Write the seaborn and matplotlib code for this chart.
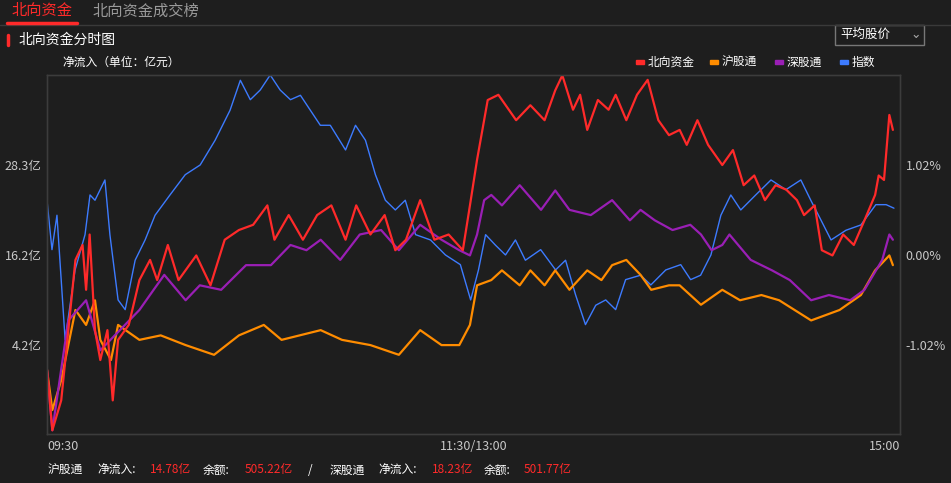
import matplotlib
matplotlib.use("Agg")
import matplotlib.pyplot as plt
import seaborn as sns
from matplotlib.patches import Rectangle
from matplotlib.lines import Line2D

# minutes since 09:30 (trading minutes, 240 total)
north_t = [0, 1.5, 4, 6, 8, 10, 11, 12, 13.5, 15, 17, 18.5, 20, 23, 26, 29, 31, 34, 37, 42, 46, 50, 54, 58,
           62, 64, 68, 72, 76, 80, 84, 87, 91, 95, 98, 101, 105, 109, 113, 117, 119, 121, 124, 127, 132, 136,
           140, 143, 145, 148, 150, 152, 155, 158, 160, 163, 166, 169, 172, 175, 178, 180, 183, 186, 190, 193,
           196, 199, 202, 205, 208, 211, 213, 216, 218, 221, 224, 227, 230, 233, 234, 235.5, 237, 238]
north_v = [0.9, -7.2, -3.2, 6.2, 15.6, 17.6, 11.6, 19.0, 6.2, 2.2, 6.2, -3.2, 4.9, 6.9, 12.9, 15.6, 12.9, 17.6,
           12.9, 16.2, 12.2, 18.3, 19.6, 20.3, 22.9, 18.3, 21.6, 18.3, 21.6, 22.9, 18.3, 22.9, 19.0, 21.6, 16.9,
           18.3, 23.6, 18.3, 19.0, 16.9, 22.9, 29.0, 37.0, 37.7, 34.3, 36.3, 34.3, 38.3, 40.3, 35.7, 37.7, 33.0,
           37.0, 35.7, 37.7, 34.3, 37.7, 39.7, 34.3, 32.3, 33.0, 31.0, 34.3, 31.0, 28.3, 30.3, 25.6, 26.9, 23.6,
           25.6, 25.0, 23.6, 21.6, 22.9, 16.9, 16.2, 19.0, 17.6, 20.9, 24.3, 26.9, 26.3, 35.0, 33.0]

sh_t = [0, 1.5, 4, 8, 11, 13.5, 15, 18, 20, 26, 32, 39, 47, 54, 61, 66, 77, 83, 91, 99, 105, 111, 116, 119,
        121, 125, 128, 133, 136, 140, 143, 147, 152, 156, 159, 163, 167, 170, 175, 178, 184, 190, 195, 201,
        206, 215, 223, 229, 233, 237, 238]
sh_v = [0.9, -4.5, -0.5, 8.9, 6.9, 10.2, 4.9, 2.2, 6.9, 4.9, 5.5, 4.2, 2.9, 5.5, 6.9, 4.9, 6.2, 4.9, 4.2, 2.9,
        6.2, 4.2, 4.2, 6.9, 12.2, 12.9, 14.2, 12.2, 14.2, 12.2, 14.2, 11.6, 14.2, 12.9, 14.9, 15.6, 13.6, 11.6,
        12.2, 12.2, 9.6, 11.6, 10.2, 10.9, 10.2, 7.5, 8.9, 10.9, 14.2, 16.2, 14.9]

sz_t = [0, 1.5, 6, 11, 15, 20.5, 26, 30, 33, 39, 43, 49, 56, 63, 68.5, 73, 77, 82.5, 88, 94, 99, 105, 111, 116,
        119, 121, 123, 125, 128, 133, 139, 143, 147, 153, 159, 164, 167, 171, 176, 181, 184, 187, 190, 192,
        198, 204, 209, 215, 220, 226, 230, 235, 237, 238]
sz_v = [0.9, -7.2, 7.5, 10.2, 3.5, 6.2, 8.9, 11.6, 13.6, 10.2, 12.2, 11.6, 14.9, 14.9, 17.6, 16.9, 18.3, 15.6,
        19.0, 19.6, 16.9, 20.3, 18.3, 16.9, 16.2, 19.0, 23.6, 24.3, 22.9, 25.6, 22.3, 24.9, 22.3, 21.6, 23.6,
        20.9, 22.3, 20.9, 19.6, 20.3, 19.0, 16.9, 17.6, 19.0, 15.6, 14.2, 12.9, 10.2, 10.9, 10.2, 11.6, 15.6,
        19.0, 18.3]

idx_t = [0, 1.4, 2.8, 5.1, 7.9, 10.7, 12.1, 13.5, 16.3, 17.7, 20, 22, 24.8, 27.6, 30.4, 34.6, 38.9, 43.1, 47.3,
         51.5, 54.4, 57.2, 60, 62.8, 65.6, 68.5, 71.3, 74.1, 76.9, 79.7, 84, 86.8, 89.6, 92.4, 95.2, 98.0, 100.8,
         103.7, 107.9, 112.1, 116.3, 119.2, 121.4, 123.4, 126.2, 129, 131.8, 134.6, 138.9, 143.1, 145.9, 148.7,
         151.5, 154.4, 157.2, 160, 162.8, 167, 169.9, 174.1, 178.3, 181.1, 183.9, 186.8, 189.6, 192.4, 195.2,
         199.4, 203.7, 207.9, 212.1, 214.9, 217.7, 220.6, 224.8, 229, 233.2, 236.1, 238.3]
idx_v = [0.62, 0.06, 0.45, -0.96, -0.17, 0.23, 0.68, 0.62, 0.85, 0.23, -0.51, -0.62, -0.06, 0.17, 0.45, 0.68,
         0.91, 1.02, 1.30, 1.64, 1.98, 1.76, 1.87, 2.04, 1.87, 1.76, 1.81, 1.64, 1.47, 1.47, 1.19, 1.47, 1.30,
         0.91, 0.62, 0.51, 0.62, 0.23, 0.17, 0.0, -0.11, -0.51, -0.17, 0.23, 0.11, 0.0, 0.17, -0.06, 0.06, -0.17,
         -0.06, -0.45, -0.79, -0.57, -0.51, -0.62, -0.28, -0.23, -0.34, -0.17, -0.11, -0.28, -0.23, 0.0, 0.45,
         0.68, 0.51, 0.68, 0.85, 0.74, 0.85, 0.62, 0.40, 0.17, 0.28, 0.34, 0.57, 0.57, 0.53]

left_ticks = [4.2, 16.2, 28.3]
right_ticks = [-1.02, 0.0, 1.02]
x_ticks = [0, 120, 240]
x_labels = ["09:30", "11:30/13:00", "15:00"]

BG = "#1e1e1e"
RED = "#ff2a2a"
ORANGE = "#ff8c00"
PURPLE = "#9a1fb5"
BLUE = "#3d7bff"
GRAY = "#c8c8c8"

sns.set_style("dark")
plt.rcParams["font.family"] = ["Noto Sans CJK SC", "DejaVu Sans"]

fig = plt.figure(figsize=(9.51, 4.83), dpi=100, facecolor=BG)
W, H = 951, 483
ax = fig.add_axes([47 / W, 49 / H, 853 / W, 359 / H], facecolor=BG)
ax2 = ax.twinx()

sns.lineplot(x=idx_t, y=idx_v, ax=ax2, color=BLUE, linewidth=1.0)
sns.lineplot(x=sh_t, y=sh_v, ax=ax, color=ORANGE, linewidth=1.6)
sns.lineplot(x=sz_t, y=sz_v, ax=ax, color=PURPLE, linewidth=1.6)
sns.lineplot(x=north_t, y=north_v, ax=ax, color=RED, linewidth=1.6)
ax.set_zorder(ax2.get_zorder() + 1)
ax.patch.set_visible(False)
ax2.patch.set_facecolor(BG)

ax.set_xlim(0, 240)
ax.set_ylim(-7.7, 40.35)
ax2.set_ylim(-2.03, 2.04)
ax.set_yticks(left_ticks)
ax.set_yticklabels([f"{v}亿" for v in left_ticks])
ax2.set_yticks(right_ticks)
ax2.set_yticklabels([f"{v:.2f}%" for v in right_ticks])
ax.set_xticks(x_ticks)
ax.set_xticklabels(x_labels)
for a in (ax, ax2):
    a.tick_params(colors=GRAY, labelsize=9, length=0, pad=4)
    a.grid(False)
    for s in a.spines.values():
        s.set_color("#3c3c3c")
        s.set_linewidth(1)
    a.set_xlabel("")
    a.set_ylabel("")
ax.xaxis.get_majorticklabels()[0].set_horizontalalignment("left")
ax.xaxis.get_majorticklabels()[2].set_horizontalalignment("right")

# header
fig.text(12 / W, 1 - 11 / H, "北向资金", color=RED, fontsize=11, va="center")
fig.text(93 / W, 1 - 11 / H, "北向资金成交榜", color="#9a9a9a", fontsize=11, va="center")
fig.add_artist(Line2D([0, 1], [1 - 24.5 / H] * 2, color="#3a3a3a", lw=1))
fig.add_artist(Line2D([7 / W, 77 / W], [1 - 23 / H] * 2, color=RED, lw=2.5))
fig.add_artist(Line2D([8 / W, 8 / W], [1 - 35 / H, 1 - 45 / H], color=RED, lw=2.5))
fig.text(19 / W, 1 - 40 / H, "北向资金分时图", color="white", fontsize=10, va="center")
fig.text(62 / W, 1 - 62 / H, "净流入（单位：亿元）", color="white", fontsize=8.5, va="center")
fig.add_artist(Rectangle((835 / W, 1 - 45 / H), 89 / W, 20 / H, fill=False, edgecolor="#777777", lw=1))
fig.text(840 / W, 1 - 34 / H, "平均股价", color="white", fontsize=9, va="center")
fig.text(910 / W, 1 - 34 / H, "⌄", color="#aaaaaa", fontsize=9, va="center", family="DejaVu Sans")

legend = [("北向资金", RED, 636), ("沪股通", ORANGE, 710), ("深股通", PURPLE, 775), ("指数", BLUE, 840)]
for name, c, x in legend:
    fig.add_artist(Rectangle((x / W, 1 - 64 / H), 8 / W, 4 / H, color=c))
    fig.text((x + 12) / W, 1 - 62 / H, name, color="white", fontsize=8.5, va="center")

# footer
foot = [("沪股通", "white", 48), ("净流入:", "white", 97), ("14.78亿", RED, 150), ("余额:", "white", 203),
        ("505.22亿", RED, 245), ("/", "white", 308), ("深股通", "white", 330), ("净流入:", "white", 378),
        ("18.23亿", RED, 432), ("余额:", "white", 484), ("501.77亿", RED, 524)]
for s, c, x in foot:
    fig.text(x / W, 1 - 470 / H, s, color=c, fontsize=8.5, va="center")

fig.savefig("out.png", dpi=100, facecolor=BG)
